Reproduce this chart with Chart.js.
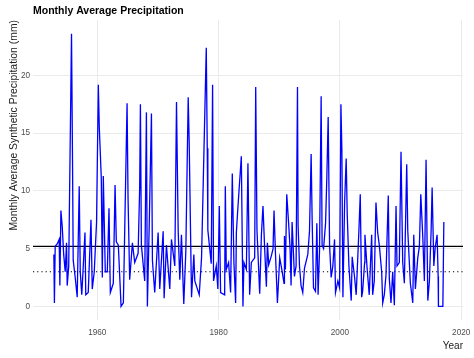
<!DOCTYPE html>
<html>
<head>
<meta charset="utf-8">
<script src="https://cdn.jsdelivr.net/npm/chart.js@4.4.1/dist/chart.umd.min.js"></script>
<style>
  html, body { margin: 0; padding: 0; background: #fff; }
  #wrap { width: 474px; height: 358px; }
</style>
</head>
<body>
<div id="wrap"><canvas id="precipChart" width="474" height="358"></canvas></div>
<script>
// values (decimal year, mm)
const years = [
  1952.84, 1952.93, 1953.06, 1953.39, 1953.72, 1953.83, 1954.0, 1954.21, 1954.46, 1954.71,
  1954.93, 1955.04, 1955.29, 1955.75, 1955.92, 1956.03, 1956.36, 1956.69, 1957.02, 1957.19,
  1957.44, 1957.69, 1957.97, 1958.1, 1958.51, 1958.96, 1959.17, 1959.5, 1959.88, 1960.17,
  1960.33, 1960.66, 1960.83, 1960.99, 1961.32, 1961.65, 1961.93, 1962.15, 1962.64, 1962.93,
  1963.14, 1963.47, 1963.92, 1964.3, 1964.91, 1965.07, 1965.34, 1965.79, 1966.17, 1966.73,
  1966.99, 1967.11, 1967.27, 1967.82, 1968.1, 1968.26, 1968.55, 1968.93, 1969.09, 1969.47,
  1970.03, 1970.3, 1970.86, 1971.02, 1971.4, 1971.95, 1972.23, 1972.78, 1973.06, 1973.34,
  1973.6, 1973.88, 1974.26, 1974.6, 1974.99, 1975.16, 1975.54, 1975.92, 1976.08, 1976.81,
  1977.19, 1977.97, 1978.13, 1978.23, 1978.79, 1979.01, 1979.17, 1979.62, 1979.88, 1980.12,
  1980.33, 1981.0, 1981.11, 1981.27, 1981.65, 1981.98, 1982.26, 1982.53, 1982.81, 1982.93,
  1983.19, 1983.75, 1984.02, 1984.18, 1984.58, 1984.84, 1985.12, 1985.4, 1985.95, 1986.12,
  1986.33, 1986.78, 1987.06, 1987.32, 1987.6, 1987.88, 1988.05, 1988.26, 1988.71, 1988.98,
  1989.14, 1989.37, 1989.7, 1990.08, 1990.46, 1990.79, 1990.86, 1991.02, 1991.24, 1991.57,
  1991.79, 1991.95, 1992.12, 1992.51, 1992.78, 1993.01, 1993.11, 1993.34, 1993.6, 1993.88,
  1994.16, 1994.71, 1994.99, 1995.26, 1995.42, 1995.65, 1995.98, 1996.2, 1996.41, 1996.64,
  1996.91, 1997.07, 1997.31, 1997.64, 1997.85, 1998.07, 1998.3, 1998.56, 1998.84, 1999.12,
  1999.28, 1999.67, 1999.95, 2000.17, 2000.33, 2000.5, 2000.78, 2001.04, 2001.21, 2001.49,
  2001.87, 2002.03, 2002.43, 2002.69, 2003.14, 2003.36, 2003.59, 2003.75, 2004.08, 2004.13,
  2004.46, 2004.84, 2005.24, 2005.4, 2005.67, 2005.95, 2006.23, 2006.5, 2006.89, 2007.06,
  2007.32, 2007.6, 2007.98, 2008.15, 2008.43, 2008.71, 2008.98, 2009.26, 2009.42, 2009.8,
  2010.08, 2010.36, 2010.63, 2011.02, 2011.19, 2011.62, 2012.02, 2012.18, 2012.45, 2012.84,
  2013.11, 2013.34, 2013.67, 2013.93, 2014.21, 2014.5, 2014.76, 2015.04, 2015.21, 2015.49,
  2015.7, 2016.03, 2016.2, 2016.25, 2016.98, 2017.14
];
const precip = [
  4.5, 0.3, 5.2, 5.4, 5.8, 1.8, 8.3, 7.0, 4.5, 3.0,
  5.5, 1.8, 3.5, 23.6, 12.3, 4.0, 2.5, 0.8, 10.4, 3.0,
  1.0, 3.5, 6.4, 1.0, 1.2, 7.5, 1.5, 3.0, 7.3, 19.2,
  15.5, 11.1, 2.5, 11.3, 3.0, 3.0, 8.5, 1.2, 2.0, 10.5,
  5.6, 5.3, 0.0, 0.3, 17.6, 9.4, 2.3, 5.5, 3.8, 4.6,
  10.3, 17.5, 5.3, 2.2, 16.8, 0.0, 6.7, 16.7, 4.0, 1.2,
  6.4, 1.5, 6.5, 0.7, 5.3, 1.5, 5.8, 3.5, 17.7, 6.5,
  2.3, 6.2, 0.2, 4.8, 18.1, 14.0, 0.8, 4.5, 2.2, 1.0,
  4.2, 22.4, 13.7, 6.6, 3.7, 19.2, 2.2, 3.5, 1.5, 8.7,
  1.2, 1.0, 10.4, 3.2, 3.8, 1.2, 11.5, 3.8, 0.3, 6.4,
  8.6, 13.0, 0.0, 3.8, 3.2, 12.4, 1.0, 3.8, 4.2, 19.0,
  6.6, 1.1, 6.2, 8.7, 5.0, 1.7, 5.5, 3.6, 4.4, 5.0,
  8.3, 4.7, 0.3, 4.2, 3.1, 2.0, 6.1, 3.2, 9.7, 7.0,
  5.0, 1.8, 7.3, 2.6, 3.5, 19.0, 7.0, 3.5, 1.8, 1.2,
  3.3, 4.5, 6.5, 13.2, 7.7, 1.6, 1.3, 7.2, 1.0, 4.8,
  18.2, 5.3, 5.0, 7.2, 11.2, 16.4, 5.3, 2.5, 3.5, 5.8,
  1.2, 2.2, 1.6, 17.5, 13.5, 0.8, 9.0, 12.8, 8.0, 3.5,
  0.5, 4.3, 2.5, 1.0, 6.6, 9.7, 0.8, 1.3, 3.8, 6.2,
  3.5, 1.0, 6.2, 1.0, 2.2, 9.0, 6.4, 5.3, 3.0, 0.3,
  1.0, 2.7, 9.6, 2.4, 0.3, 3.0, 0.1, 8.7, 3.5, 3.8,
  13.4, 3.8, 2.0, 12.3, 6.6, 2.0, 0.3, 6.2, 1.5, 4.2,
  5.2, 9.7, 6.0, 2.2, 12.7, 0.5, 2.2, 6.5, 10.3, 3.5,
  5.0, 6.2, 2.6, 0.0, 0.0, 7.3
];
const meanValue = 5.2;
const medianValue = 3.0;
const xBounds = [1949.4, 2020.3];
const yBounds = [-1.18, 24.8];
const xTicks = [1960, 1980, 2000, 2020];
const yTicks = [0, 5, 10, 15, 20];

const fontFamily = "'Liberation Sans', Arial, sans-serif";

const seriesData = years.map((y, i) => ({ x: y, y: precip[i] }));
const meanData = xBounds.map(x => ({ x: x, y: meanValue }));
const medianData = xBounds.map(x => ({ x: x, y: medianValue }));

new Chart(document.getElementById("precipChart"), {
  type: "line",
  data: {
    datasets: [
      {
        label: "Precipitation",
        data: seriesData,
        borderColor: "#0000ff",
        borderWidth: 1.3,
        pointRadius: 0,
        tension: 0
      },
      {
        label: "Mean",
        data: meanData,
        borderColor: "#000000",
        borderWidth: 1.3,
        pointRadius: 0
      },
      {
        label: "Median",
        data: medianData,
        borderColor: "#000000",
        borderWidth: 1.1,
        borderDash: [1.2, 3],
        pointRadius: 0
      }
    ]
  },
  options: {
    responsive: false,
    animation: false,
    layout: { padding: 0 },
    plugins: {
      legend: { display: false },
      tooltip: { enabled: false },
      title: {
        display: true,
        text: "Monthly Average Precipitation",
        align: "start",
        fullSize: false,
        color: "#000",
        font: { family: fontFamily, size: 10.5, weight: "bold", lineHeight: 1.2 },
        padding: { top: 5, bottom: 2.4 }
      }
    },
    scales: {
      x: {
        type: "linear",
        min: xBounds[0],
        max: xBounds[1],
        afterBuildTicks: s => { s.ticks = xTicks.map(v => ({ value: v })); },
        afterFit: s => { s.height = 38; s.paddingLeft = 0; s.paddingRight = 11; },
        border: { display: false },
        grid: { color: "#ebebeb", lineWidth: 1, drawTicks: false },
        ticks: {
          color: "#4d4d4d",
          padding: 8,
          maxRotation: 0,
          font: { family: fontFamily, size: 8.2 },
          callback: v => String(v)
        },
        title: {
          display: true,
          text: "Year",
          align: "end",
          color: "#222",
          font: { family: fontFamily, size: 10, lineHeight: 1.2 },
          padding: { top: 0, bottom: 6 }
        }
      },
      y: {
        type: "linear",
        min: yBounds[0],
        max: yBounds[1],
        afterBuildTicks: s => { s.ticks = yTicks.map(v => ({ value: v })); },
        afterFit: s => { s.width = 33; },
        border: { display: false },
        grid: { color: "#ebebeb", lineWidth: 1, drawTicks: false },
        ticks: {
          color: "#4d4d4d",
          padding: 3,
          font: { family: fontFamily, size: 8.2 }
        },
        title: {
          display: true,
          text: "Monthly Average Synthetic Precipitation (mm)",
          align: "end",
          color: "#222",
          font: { family: fontFamily, size: 10.4, lineHeight: 1.2 },
          padding: { top: 8, bottom: 0 }
        }
      }
    }
  }
});
</script>
</body>
</html>
